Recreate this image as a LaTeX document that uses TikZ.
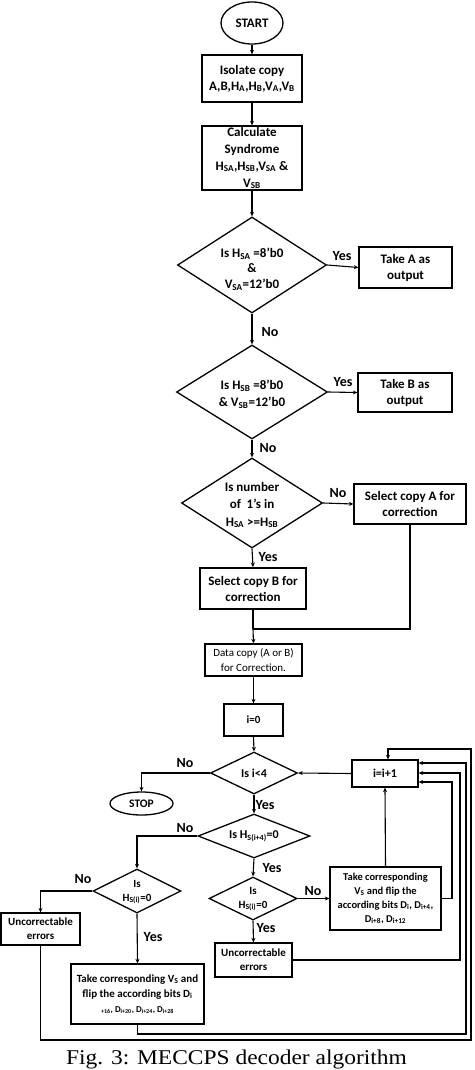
\documentclass[tikz,border=0pt]{standalone}
\usepackage{fontspec}
\setmainfont{Carlito}
\newfontfamily\capfont{Liberation Serif}
\usetikzlibrary{shapes.geometric,arrows.meta}
\newcommand\sbs[1]{\textsubscript{#1}}
\begin{document}
\begin{tikzpicture}[x=1pt,y=-1pt,
  every node/.style={font=\bfseries\fontsize{13}{16}\selectfont},
  box/.style={draw, line width=1.3pt, align=center, inner sep=1pt},
  dia/.style={draw, diamond, line width=1.3pt, inner sep=0pt},
  oval/.style={draw, ellipse, line width=1.3pt, inner sep=0pt},
  txt/.style={align=center, inner sep=0pt},
  lab/.style={inner sep=0pt, font=\bfseries\fontsize{14}{16}\selectfont},
  small/.style={font=\bfseries\fontsize{11}{14}\selectfont},
  arr/.style={-{Stealth[length=4.5pt,width=4pt]}, line width=1.1pt},
  ln/.style={line width=1.1pt},
]
\useasboundingbox (0,0) rectangle (474,1070);

% nodes
\node[oval, minimum width=62pt, minimum height=42pt] (start) at (252,23) {START};
\node[box, minimum width=100pt, minimum height=47pt] (isol) at (252,78.5) {Isolate copy\\A,B,H\sbs{A},H\sbs{B},V\sbs{A},V\sbs{B}};
\node[box, minimum width=100pt, minimum height=62pt, font=\bfseries\fontsize{13}{17}\selectfont] (calc) at (252,158) {Calculate\\Syndrome\\H\sbs{SA},H\sbs{SB},V\sbs{SA} \&\\V\sbs{SB}};

\node[dia, minimum width=149pt, minimum height=96pt] (d1) at (252,265) {};
\node[txt, font=\bfseries\fontsize{13}{15.5}\selectfont] (d1t) at (252,269) {Is H\sbs{SA} =8’b0\\\&\\V\sbs{SA}=12’b0};
\node[box, minimum width=93pt, minimum height=41pt] (takeA) at (405.5,267.5) {Take A as\\output};

\node[dia, minimum width=151pt, minimum height=94pt] (d2) at (252,392) {};
\node[txt, font=\bfseries\fontsize{13}{17}\selectfont] (d2t) at (252,394) {Is H\sbs{SB} =8’b0\\\& V\sbs{SB}=12’b0};
\node[box, minimum width=94pt, minimum height=39pt] (takeB) at (405,392.5) {Take B as\\output};

\node[dia, minimum width=141pt, minimum height=90pt] (d3) at (252,503) {};
\node[txt, font=\bfseries\fontsize{13}{17.5}\selectfont] (d3t) at (252,505) {Is number\\of~ 1’s in\\H\sbs{SA} >=H\sbs{SB}};
\node[box, minimum width=112pt, minimum height=40pt] (selA) at (410,504) {Select copy A for\\correction};
\node[box, line width=1.8pt, minimum width=106pt, minimum height=41pt] (selB) at (253,588.5) {Select copy B for\\correction};

\coordinate (merge) at (253,629);
\node[box, minimum width=97pt, minimum height=32pt, font=\fontsize{11}{15}\selectfont] (data) at (253.5,660) {Data copy (A or B)\\for Correction.};
\node[box, minimum width=59pt, minimum height=32pt, font=\bfseries\fontsize{11}{14}\selectfont] (i0) at (253.5,720) {i=0};

\node[dia, minimum width=87pt, minimum height=42pt] (d4) at (254,773) {};
\node[txt, font=\bfseries\fontsize{12}{14}\selectfont] (d4t) at (254,773) {Is i<4};
\node[oval, minimum width=63pt, minimum height=23pt, font=\bfseries\fontsize{11.5}{14}\selectfont] (stop) at (141.5,803.5) {STOP};
\node[box, minimum width=66pt, minimum height=27pt, font=\bfseries\fontsize{12}{14}\selectfont] (inc) at (385,773.5) {i=i+1};

\node[dia, minimum width=112pt, minimum height=44pt] (d5) at (254,836) {};
\node[txt, font=\bfseries\fontsize{12}{14}\selectfont] (d5t) at (254,836) {Is H\sbs{S(i+4)}=0};

\node[dia, minimum width=88pt, minimum height=44pt] (d6) at (137,891) {};
\node[txt, small] (d6t) at (137,892) {Is\\H\sbs{S(i)}=0};
\node[box, small, minimum width=79pt, minimum height=32pt] (unc1) at (40.5,929) {Uncorrectable\\errors};
\node[box, minimum width=133pt, minimum height=60pt, font=\bfseries\fontsize{11}{15}\selectfont] (tk1) at (137.5,994) {Take corresponding V\sbs{S} and\\flip the according bits D\sbs{i}\\{\fontsize{9}{12}\selectfont\sbs{+16}, D\sbs{i+20}, D\sbs{i+24}, D\sbs{i+28}}};

\node[dia, minimum width=88pt, minimum height=43pt] (d7) at (253,898.5) {};
\node[txt, small] (d7t) at (253,899) {Is\\H\sbs{S(i)}=0};
\node[box, small, minimum width=77pt, minimum height=34pt] (unc2) at (253.5,960) {Uncorrectable\\errors};
\node[box, minimum width=111pt, minimum height=63pt, font=\bfseries\fontsize{10.5}{14}\selectfont] (tk2) at (385.5,898.5) {Take corresponding\\V\sbs{S} and flip the\\according bits D\sbs{i}, D\sbs{i+4},\\D\sbs{i+8}, D\sbs{i+12}};

% connectors
\draw[arr] (start) -- (isol);
\draw[arr] (isol) -- (calc);
\draw[arr] (calc.south) -- (d1.north);
\draw[arr] (d1.east) -- (takeA.west);
\node[lab] (y1) at (342,256) {Yes};
\draw[arr] (d1.south) -- (d2.north);
\node[lab] (n1) at (270,332) {No};
\draw[arr] (d2.east) -- (takeB.west);
\node[lab] (y2) at (343,382) {Yes};
\draw[arr] (d2.south) -- (d3.north);
\node[lab] (n2) at (268,448) {No};
\draw[arr] (d3.east) -- (selA.west);
\node[lab] (n3) at (338,493) {No};
\draw[arr] (d3.south) -- (selB.north);
\node[lab] (y3) at (268,557) {Yes};
\draw[ln] (selB.south) -- (merge);
\draw[ln] (selA.south) |- (merge);
\draw[arr] (merge) -- (data.north);
\draw[arr] (data) -- (i0);
\draw[arr] (i0.south) -- (d4.north);
\draw[arr] (d4.west) -| (stop.north);
\node[lab] (n4) at (185,763) {No};
\draw[arr] (inc.west) -- (d4.east);
\draw[arr] (d4.south) -- (d5.north);
\node[lab] (y4) at (265,805) {Yes};
\draw[arr] (d5.west) -| (d6.north);
\node[lab] (n5) at (185,828) {No};
\draw[arr] (d6.west) -| (unc1.north);
\node[lab] (n6) at (83,879) {No};
\draw[arr] (d6.south) -- (tk1.north);
\node[lab] (y6) at (153,937) {Yes};
\draw[arr] (d5.south) -- (d7.north);
\node[lab] (y5) at (272,868) {Yes};
\draw[arr] (d7.east) -- (tk2.west);
\node[lab] (n7) at (313,891) {No};
\draw[arr] (d7.south) -- (unc2.north);
\node[lab] (y7) at (266,928) {Yes};
\draw[arr] (tk2.north) -- (inc.south);

\coordinate (r1) at (452,782);
\coordinate (r2) at (460,773);
\coordinate (r3) at (466,763);
\coordinate (b3) at (466,1034);
\coordinate (r4) at (471,749);
\coordinate (b4) at (471,1040);
\coordinate (t4) at (388,749);
\draw[arr] (tk2.east) -| (r1) -- (inc.east |- r1);
\draw[arr] (unc2.east) -| (r2) -- (inc.east |- r2);
\draw[arr, line width=1.4pt] (tk1.south) |- (b3) -- (r3) -- (inc.east |- r3);
\draw[arr, line width=1.6pt] (unc1.south) |- (b4) -- (r4) -- (t4) -- (t4 |- inc.north);

\node[font=\capfont\fontsize{21}{24}\selectfont, anchor=base, inner sep=0pt] (cap) at (236.5,1064) {\scalebox{1.117}[1]{Fig. 3: MECCPS decoder algorithm}};
\end{tikzpicture}
\end{document}
